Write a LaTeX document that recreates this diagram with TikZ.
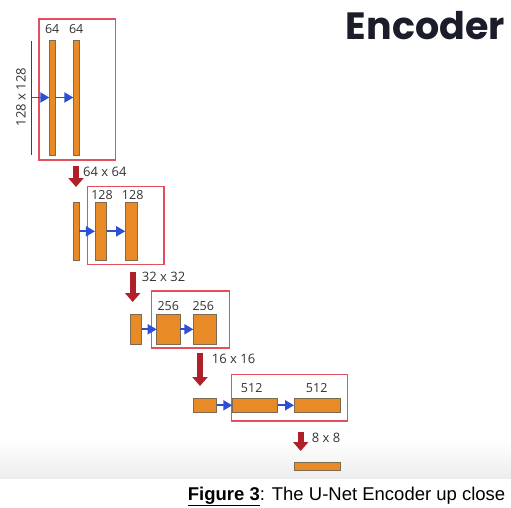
\documentclass[tikz,border=0pt]{standalone}
\usepackage{fontspec}
\setmainfont{Open Sans}
\newfontfamily\titlefont{Poppins}
\newfontfamily\capfont{Liberation Sans}
\usetikzlibrary{arrows.meta}
\definecolor{barfill}{HTML}{E88A25}
\definecolor{bardraw}{HTML}{7D6A52}
\definecolor{boxred}{HTML}{E0505F}
\definecolor{downred}{HTML}{B0202A}
\definecolor{flowblue}{HTML}{2D4FD6}
\definecolor{labgray}{HTML}{333333}
\definecolor{titlecol}{HTML}{1B1D2A}
\tikzset{
  bar/.style={draw=bardraw, fill=barfill, line width=0.8pt, inner sep=0pt, outer sep=0pt},
  stagebox/.style={draw=boxred, line width=1.2pt, fill=none},
  flow/.style={draw=flowblue, line width=1.8pt, -{Triangle[length=9pt,width=10pt]}},
  down/.style={draw=downred, line width=6pt, -{Triangle[length=9pt,width=15pt]}},
  num/.style={font=\fontsize{12.5}{14}\selectfont, text=labgray, inner sep=0pt},
  dim/.style={font=\fontsize{13}{15}\selectfont, text=labgray, inner sep=0pt, anchor=west},
}
\begin{document}
\begin{tikzpicture}[x=1pt,y=-1pt]
\useasboundingbox (0,0) rectangle (511,508);
\fill[white] (0,0) rectangle (511,508);
\shade[top color=white, bottom color=black!7] (0,440) rectangle (511,478);
% title
\node[font=\titlefont\bfseries\fontsize{38}{40}\selectfont, text=titlecol, anchor=base east, inner sep=0pt] (title) at (505,39.5) {Encoder};
% level 1
\coordinate (l1top) at (31.7,41);
\coordinate (l1bot) at (31.7,155);
\draw[line width=1.5pt, draw=black!75] (l1top) -- (l1bot);
\node[dim, anchor=center, rotate=90] (d128) at (21,97) {128 x 128};
\node[stagebox, minimum width=76.7pt, minimum height=141pt, inner sep=0pt] (box1) at (77.3,89.5) {};
\node[bar, minimum width=5.7pt, minimum height=115pt] (b1) at (52.2,97.5) {};
\node[bar, minimum width=5.7pt, minimum height=115pt] (b2) at (76.2,97.5) {};
\node[num] (n1) at (52.2,29) {64};
\node[num] (n2) at (76.2,29) {64};
\coordinate (l1in) at (31.7,97.5);
\draw[flow] (l1in) -- (b1.west);
\draw[flow] (b1.east) -- (b2.west);
% down 1
\coordinate (dn1a) at (76,166);
\coordinate (dn1b) at (76,187);
\draw[down] (dn1a) -- (dn1b);
\node[dim] (d64) at (83,172) {64 x 64};
% level 2
\node[stagebox, minimum width=76.7pt, minimum height=78pt, inner sep=0pt] (box2) at (125.7,225.7) {};
\node[bar, minimum width=5.7pt, minimum height=57.3pt] (s2) at (76.2,231.3) {};
\node[bar, minimum width=11.7pt, minimum height=57.3pt] (b3) at (100.8,231.3) {};
\node[bar, minimum width=12pt, minimum height=57.3pt] (b4) at (131.2,231.3) {};
\node[num] (n3) at (102,195) {128};
\node[num] (n4) at (132.7,195) {128};
\draw[flow] (s2.east) -- (b3.west);
\draw[flow] (b3.east) -- (b4.west);
% down 2
\coordinate (dn2a) at (132.7,271.7);
\coordinate (dn2b) at (132.7,302);
\draw[down] (dn2a) -- (dn2b);
\node[dim] (d32) at (141.7,277) {32 x 32};
% level 3
\node[stagebox, minimum width=78pt, minimum height=57pt, inner sep=0pt] (box3) at (190.5,319.5) {};
\node[bar, minimum width=11.7pt, minimum height=30pt] (s3) at (135.8,329.3) {};
\node[bar, minimum width=23.3pt, minimum height=30pt] (b5) at (168.3,329.3) {};
\node[bar, minimum width=23.3pt, minimum height=30pt] (b6) at (205,329.3) {};
\node[num] (n5) at (168.3,305.7) {256};
\node[num] (n6) at (203.3,305.7) {256};
\draw[flow] (s3.east) -- (b5.west);
\draw[flow] (b5.east) -- (b6.west);
% down 3
\coordinate (dn3a) at (200,353);
\coordinate (dn3b) at (200,386);
\draw[down] (dn3a) -- (dn3b);
\node[dim] (d16) at (211.7,359) {16 x 16};
% level 4
\node[stagebox, minimum width=115.6pt, minimum height=46.7pt, inner sep=0pt] (box4) at (289.5,397.7) {};
\node[bar, minimum width=23.3pt, minimum height=14pt] (s4) at (205,405.3) {};
\node[bar, minimum width=45.4pt, minimum height=14pt] (b7) at (255,405.3) {};
\node[bar, minimum width=46pt, minimum height=14pt] (b8) at (317,405.3) {};
\node[num] (n7) at (251.7,388.3) {512};
\node[num] (n8) at (316.7,388.3) {512};
\draw[flow] (s4.east) -- (b7.west);
\draw[flow] (b7.east) -- (b8.west);
% down 4
\coordinate (dn4a) at (300.7,431.7);
\coordinate (dn4b) at (300.7,451);
\draw[down] (dn4a) -- (dn4b);
\node[dim] (d8) at (311.7,438.3) {8 x 8};
% bottom
\node[bar, minimum width=46pt, minimum height=7.3pt] (b9) at (317,466.3) {};
% caption
\node[font=\capfont\fontsize{18.5}{20}\selectfont, anchor=base east, inner sep=0pt] (cap) at (505.5,500) {\textbf{\underline{Figure 3}}: The U-Net Encoder up close};
\end{tikzpicture}
\end{document}
